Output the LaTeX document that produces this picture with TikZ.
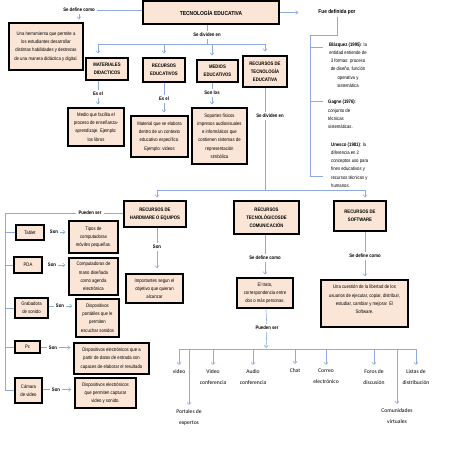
\documentclass[tikz,border=0pt]{standalone}
\usepackage{fontspec}
\setmainfont{Liberation Sans}[FakeStretch=0.85]
\newfontfamily\calfont{Carlito}
\usepackage{xcolor}
\usepackage{tikz}
\usetikzlibrary{arrows.meta}
\usetikzlibrary{positioning}
\definecolor{peach}{RGB}{251,229,214}
\definecolor{linea}{RGB}{143,170,220}

\begin{document}
\begin{tikzpicture}[x=1pt,y=-1pt,
  txt/.style = {font=\fontsize{5}{8.2}\selectfont, align=center, inner sep=1pt},
  caja/.style = {txt, draw=black, line width=1.4pt, fill=peach, inner sep=2pt},
  jefe/.style = {caja, font=\fontsize{5}{8.2}\selectfont\bfseries},
  etiq/.style = {txt, font=\fontsize{5}{8.2}\selectfont\bfseries, inner sep=2pt},
  hoja/.style = {align=center, anchor=north, font=\calfont\fontsize{5.6}{11}\selectfont, inner sep=1pt},
  conn/.style = {draw=linea, line width=0.6pt},
  flecha/.style = {conn, -{Straight Barb[length=2.2pt,width=4pt]}, shorten >=3pt}]
  \useasboundingbox (0,0) rectangle (453,453);

  \node[jefe, minimum width=136pt, minimum height=23pt, font=\fontsize{5.8}{7}\selectfont\bfseries] (titulo) at (211,12.5) {TECNOLOGÍA EDUCATIVA};
  \node[etiq] (defA) at (79,10) {Se define como};
  \node[etiq, font=\fontsize{5.6}{7}\selectfont\bfseries] (fuedef) at (337,12.5) {Fue definida por};
  \node[caja, minimum width=74pt, minimum height=47pt] (herr) at (46,46.5)
    {Una herramienta que permite a\\los estudiantes desarrollar\\distintas habilidades y destrezas\\de una manera didáctica y digital.};

  \node[txt] (blaz) at (348,65) {\textbf{Blázquez (1995)}: la\\entidad entiende de\\3 formas: proceso\\de diseño, función\\operativa y\\sistemática};
  \node[txt, anchor=west, align=left] (gagne) at (327,114.5) {\textbf{Gagne (1976)}:\\conjunto de\\técnicas\\sistemáticas.};
  \node[txt, anchor=west, align=left] (unesco) at (330,165) {\textbf{Unesco (1981)}: la\\diferencia en 2\\conceptos uso para\\fines educativos y\\recursos técnicos y\\humanos.};

  \node[etiq] (divA) at (207,35) {Se dividen en};
  \node[jefe, minimum width=42pt, minimum height=22pt] (mat) at (107,69) {MATERIALES\\DIDACTICOS};
  \node[jefe, minimum width=42pt, minimum height=24pt] (receduc) at (164,70) {RECURSOS\\EDUCATIVOS};
  \node[jefe, minimum width=41pt, minimum height=22pt] (medios) at (217.5,71) {MEDIOS\\EDUCATIVOS};
  \node[jefe, minimum width=44pt, minimum height=31pt] (rectec) at (265,71.5) {RECURSOS DE\\TECNOLOGÍA\\EDUCATIVA};

  \node[etiq] (esel1) at (98,94) {Es el};
  \node[etiq] (esel2) at (164,99) {Es el};
  \node[etiq] (sonlos) at (212,93) {Son los};
  \node[etiq] (divB) at (270,116) {Se dividen en};

  \node[caja, minimum width=56pt, minimum height=38pt] (medio) at (96,127) {Medio que facilita el\\proceso de enseñanza-\\aprendizaje. Ejemplo:\\los libros};
  \node[caja, minimum width=57pt, minimum height=41pt] (material) at (159.5,136.5) {Material que se elabora\\dentro de un contexto\\educativo específico.\\Ejemplo: videos};
  \node[caja, minimum width=55pt, minimum height=56pt] (soportes) at (219.5,136) {Soportes físicos\\impresos audiovisuales\\e informáticos que\\contienen sistemas de\\representación\\simbólica};

  \node[jefe, minimum width=62pt, minimum height=26pt] (hw) at (155,214) {RECURSOS DE\\HARDWARE O EQUIPOS};
  \node[jefe, minimum width=65pt, minimum height=33pt] (tc) at (266.5,217.5) {RECURSOS\\TECNOLÓGICOSDE\\COMUNICACIÓN};
  \node[jefe, minimum width=52pt, minimum height=30pt] (sw) at (360,216) {RECURSOS DE\\SOFTWARE};

  \node[etiq] (son0) at (157,247) {Son};
  \node[etiq] (sedef2) at (265,258) {Se define como};
  \node[etiq] (sedef3) at (365,256) {Se define como};
  \node[caja, minimum width=57pt, minimum height=29pt] (imp) at (154.5,288.5) {Importantes segun el\\objetivo que quieran\\alcanzar};
  \node[caja, minimum width=56pt, minimum height=30pt] (trato) at (265,293) {El trato,\\correspondencia entre\\dos o más personas.};
  \node[caja, minimum width=87pt, minimum height=47pt] (libre) at (364.5,303.5) {Una cuestión de la libertad de los\\usuarios de ejecutar, copiar, distribuir,\\estudiar, cambiar y mejorar \ El\\Software.\\\mbox{}};
  \node[etiq] (pueden2) at (267,328) {Pueden ser};

  \node[etiq] (pueden1) at (90,213) {Pueden ser};
  \node[caja, minimum width=28pt, minimum height=15pt] (tablet) at (30,232.5) {Tablet};
  \node[caja, minimum width=28pt, minimum height=16pt] (pda) at (28,265) {PDA};
  \node[caja, minimum width=33pt, minimum height=20pt] (grab) at (31.5,308) {Grabadora\\de sonido};
  \node[caja, minimum width=25pt, minimum height=12pt] (pc) at (27.5,347) {Pc};
  \node[caja, minimum width=27pt, minimum height=25pt] (cam) at (28.5,390.5) {Cámara\\de video};
  \node[etiq] (son1) at (54,232) {Son};
  \node[etiq] (son2) at (52,265) {Son};
  \node[etiq] (son3) at (60,306) {Son};
  \node[etiq] (son4) at (53,347.5) {Son};
  \node[etiq] (son5) at (56,389.5) {Son};
  \node[caja, minimum width=49pt, minimum height=32pt] (tipos) at (93.5,237) {Tipos de\\computadoras\\móviles pequeñas.};
  \node[caja, minimum width=49pt, minimum height=37pt] (compu) at (93.5,276.5) {Computadoras de\\mano diseñada\\como agenda\\electrónica};
  \node[caja, minimum width=43pt, minimum height=38pt] (disp1) at (97.5,318) {Dispositivos\\portátiles que le\\permiten\\escuchar sonidos};
  \node[caja, minimum width=75pt, minimum height=31pt] (disp2) at (111.5,358.5) {Dispositivos electrónicos que a\\partir de datos de entrada son\\capaces de elaborar el resultado};
  \node[caja, minimum width=61pt, minimum height=30pt] (disp3) at (105.5,393) {Dispositivos electrónicos\\que permiten capturar\\video y sonido.};

  \node[hoja] (video) at (179,368) {video};
  \node[hoja] (portales) at (189,408) {Portales de\\expertos};
  \node[hoja] (vconf) at (213,368) {Video\\conferencia};
  \node[hoja] (aconf) at (253,368) {Audio\\conferencia};
  \node[hoja] (chat) at (295,367) {Chat};
  \node[hoja] (correo) at (326,368) {Correo\\electrónico};
  \node[hoja] (foros) at (374,368) {Foros de\\discusión};
  \node[hoja] (comun) at (397,407) {Comunidades\\virtuales};
  \node[hoja] (listas) at (416,368) {Listas de\\distribución};

  \coordinate (cA) at (337,35);
  \coordinate (cB) at (310,35);
  \coordinate (cC) at (310,176);
  \coordinate (barA) at (207,44);
  \coordinate (barB) at (265,190);
  \coordinate (barC) at (266,349);
  \coordinate (lb) at (5,213);

  \draw[conn] (titulo.west |- defA) -- (defA);
  \draw[flecha] (defA) -- (defA |- herr.north);
  \draw[flecha, shorten >=18pt] (titulo.east |- fuedef) -- (fuedef);
  \draw[conn] (fuedef) -- (cA) -- (cB) -- (cC) -- ++(13,0);
  \foreach \y in {47,101} \draw[conn] (310,\y) -- ++(13,0);

  \draw[conn] (titulo.south -| divA) -- (divA);
  \draw[conn] (divA) -- (barA);
  \draw[conn] (barA -| esel1) -- (barA -| rectec);
  \foreach \a/\b in {esel1/mat, esel2/receduc, sonlos/medios, rectec/rectec}
    \draw[flecha, shorten >=4pt] (barA -| \a) -- (\b.north -| \a);
  \foreach \a/\b/\c in {esel1/mat/medio, esel2/receduc/material, sonlos/medios/soportes} {
    \draw[conn] (\b.south -| \a) -- (\a);
    \draw[flecha] (\a) -- (\a |- \c.north);
  }

  \draw[conn] (rectec.south) -- (rectec.south |- divB.north);
  \draw[conn] (rectec.south |- divB.south) -- (barB);
  \draw[conn] (barB -| son0) -- (barB -| sedef3);
  \draw[flecha] (barB -| son0) -- (hw.north -| son0);
  \draw[flecha] (barB -| sedef3) -- (sw.north -| sedef3);

  \draw[conn] (hw.south -| son0) -- (son0);
  \draw[flecha, shorten >=5pt] (son0) -- (son0 |- imp.north);
  \draw[conn] (tc.south -| sedef2) -- (sedef2);
  \draw[flecha] (sedef2) -- (sedef2 |- trato.north);
  \draw[conn] (sw.south -| sedef3) -- (sedef3);
  \draw[flecha] (sedef3) -- (sedef3 |- libre.north);

  \draw[conn] (hw.west |- pueden1) -- (pueden1);
  \draw[conn] (pueden1) -- (lb) |- (cam.west);
  \foreach \n in {tablet,pda,grab,pc} \draw[conn] (lb |- \n.west) -- (\n.west);
  \draw[conn] (grab.east |- son3) -- (son3);
  \draw[conn] (pc.east |- son4) -- (son4);
  \draw[conn] (cam.east |- son5) -- (son5);
  \foreach \s/\b in {son1/tipos, son2/compu, son3/disp1, son4/disp2, son5/disp3}
    \draw[flecha] (\s) -- (\b.west |- \s);

  \draw[conn] (trato) -- (pueden2);
  \draw[flecha, shorten >=1pt] (pueden2) -- (barC);
  \draw[conn] (barC -| video) -- (barC -| listas);
  \foreach \n in {video,portales,vconf,aconf,chat,correo,foros,comun,listas}
    \draw[flecha] (barC -| \n) -- (\n.north);
\end{tikzpicture}
\end{document}
